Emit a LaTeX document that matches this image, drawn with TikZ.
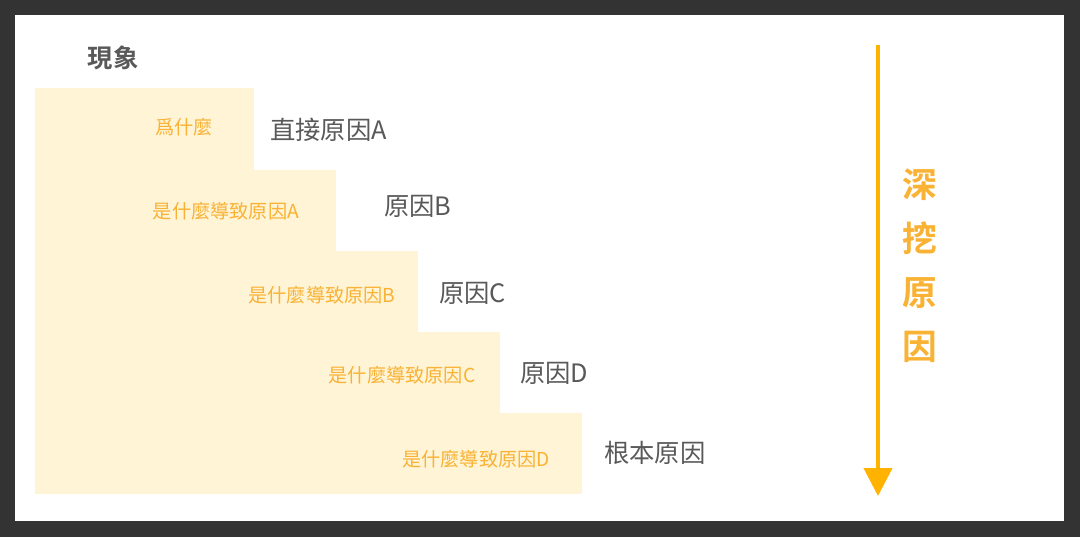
\documentclass[tikz,border=0pt]{standalone}
\usepackage{fontspec}
\setmainfont{Noto Sans CJK TC}[BoldFont={Noto Sans CJK TC Bold}]
\usetikzlibrary{arrows.meta}
\definecolor{frame}{HTML}{333333}
\definecolor{stepfill}{HTML}{FFF4D6}
\definecolor{whyorange}{HTML}{F9B233}
\definecolor{arroworange}{HTML}{FFB300}
\definecolor{causegray}{HTML}{595959}
\tikzset{
    why/.style={text=whyorange,font=\fontsize{14.4}{16}\selectfont,inner sep=0pt},
    cause/.style={text=causegray,font=\fontsize{19}{20}\selectfont,anchor=west,inner sep=0pt},
}
\begin{document}
\begin{tikzpicture}[x=0.75pt,y=-0.75pt]
        %% Frame
        \fill[frame] (0,0) rectangle (1080,537);
        \useasboundingbox (0,0) rectangle (1080,537);
        \fill[white] (15,15) rectangle (1064,521);
        %% Steps
        \foreach \top/\right in {88/254,170/336,251/418,332/500,413/582}
            \fill[stepfill] (35,\top) rectangle (\right,494);
        %% Labels
        \node[text=causegray,font=\fontsize{19}{20}\selectfont\bfseries,inner sep=0pt] (phenomenon) at (113,58) {現象};
        \node[why] (why0) at (184,127) {爲什麼};
        \node[cause] (causeA) at (270,130) {直接原因A};
        \node[why] (why1) at (226,211) {是什麼導致原因A};
        \node[cause] (causeB) at (384,206) {原因B};
        \node[why] (why2) at (322,295) {是什麼導致原因B};
        \node[cause] (causeC) at (439,293) {原因C};
        \node[why] (why3) at (402,375) {是什麼導致原因C};
        \node[cause] (causeD) at (520,373) {原因D};
        \node[why] (why4) at (476,459) {是什麼導致原因D};
        \node[cause] (root) at (604,453) {根本原因};
        %% Arrow
        \coordinate (digtop) at (878,45);
        \coordinate (digbottom) at (878,496);
        \draw[arroworange,line width=3pt,-{Triangle[width=21pt,length=21pt]}] (digtop) -- (digbottom);
        \node[text=whyorange,font=\fontsize{26}{40.5}\selectfont\bfseries,align=center,inner sep=0pt] (dig) at (920,266) {深\\挖\\原\\因};
    \end{tikzpicture}
\end{document}
